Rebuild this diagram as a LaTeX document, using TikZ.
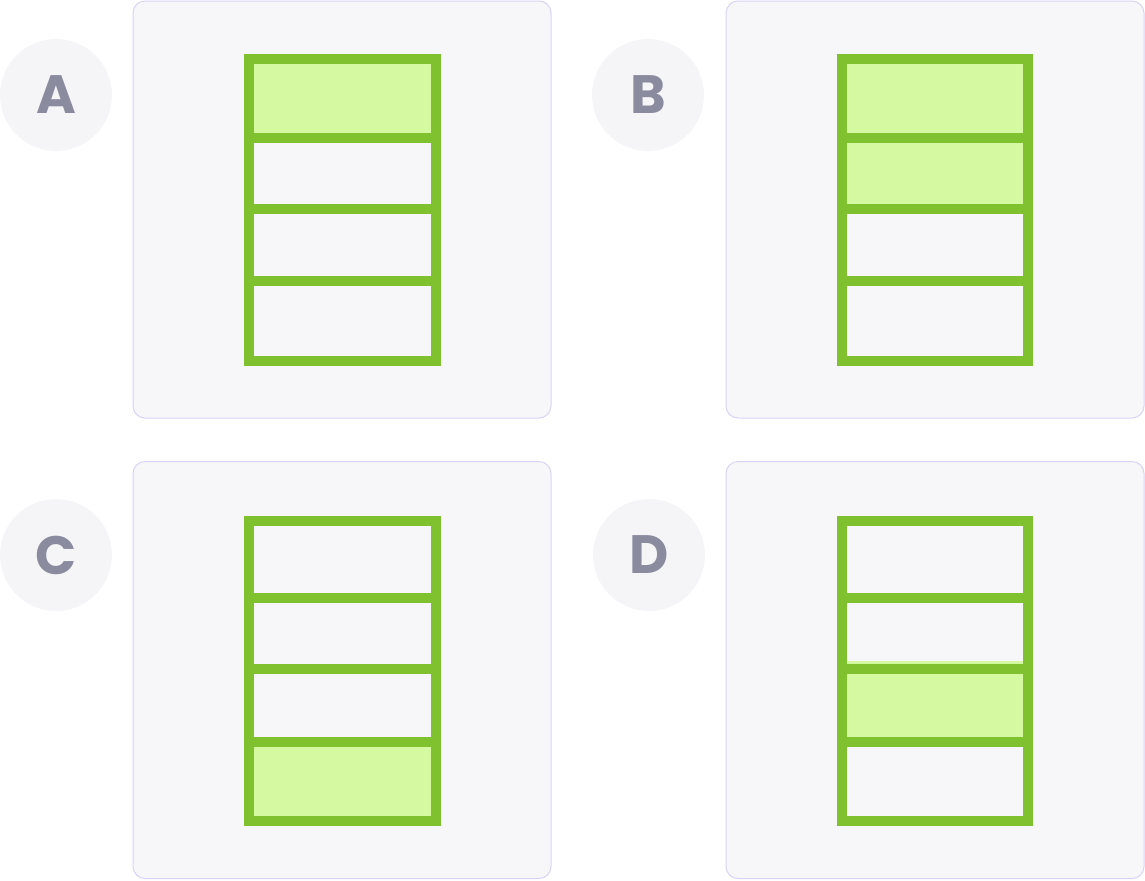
\documentclass[tikz,border=0pt]{standalone}
\usepackage{fontspec}
\newfontfamily\badgefont{Poppins}
\usepackage{tikz}
\usetikzlibrary{positioning}
\definecolor{panelbg}{HTML}{F7F7FA}
\definecolor{panelline}{HTML}{D8D3F6}
\definecolor{disc}{HTML}{F5F5F8}
\definecolor{letter}{HTML}{8B8B9F}
\definecolor{cellline}{HTML}{80C12F}
\definecolor{cellfill}{HTML}{D5F9A1}
\tikzset{
  panel/.style={draw=panelline,fill=panelbg,rounded corners=6pt,line width=0.5pt,minimum width=209pt,minimum height=208.5pt,inner sep=0pt},
  badge/.style={circle,fill=disc,minimum size=56pt,inner sep=0pt,text=letter,font=\badgefont\bfseries\fontsize{27}{27}\selectfont},
  cellrim/.style={draw=cellline,line width=5pt},
  hot/.style={fill=cellfill}
}
\begin{document}
\begin{tikzpicture}[x=0.5pt,y=-0.5pt]
  \useasboundingbox (0,0) rectangle (1145,880);
  \node[panel] (pa) at (342,209.5) {};
  \node[panel] (pb) at (935,209.5) {};
  \node[panel] (pc) at (342,670) {};
  \node[panel] (pd) at (935,670) {};
  \node[badge] (ba) at (56,95) {A};
  \node[badge] (bb) at (648,95) {B};
  \node[badge] (bc) at (56,555) {C};
  \node[badge] (bd) at (649,555) {D};
  % A: top row
  \fill[hot] (248.5,58.5) rectangle (435.5,138);
  \draw[cellrim] (248.5,58.5) rectangle (435.5,360.5);
  \foreach \y in {138,209,281} \draw[cellrim] (248.5,\y) -- (435.5,\y);
  % B: two rows
  \fill[hot] (842,58.5) rectangle (1028,209);
  \draw[cellrim] (842,58.5) rectangle (1028,360.5);
  \foreach \y in {138,209,281} \draw[cellrim] (842,\y) -- (1028,\y);
  % C: bottom row
  \fill[hot] (248.5,742) rectangle (435.5,821);
  \draw[cellrim] (248.5,521) rectangle (435.5,821);
  \foreach \y in {598,669,742} \draw[cellrim] (248.5,\y) -- (435.5,\y);
  % D: third row
  \fill[hot] (842,661) rectangle (1028,742);
  \draw[cellrim] (842,521) rectangle (1028,821);
  \foreach \y in {598,669,742} \draw[cellrim] (842,\y) -- (1028,\y);
\end{tikzpicture}
\end{document}
